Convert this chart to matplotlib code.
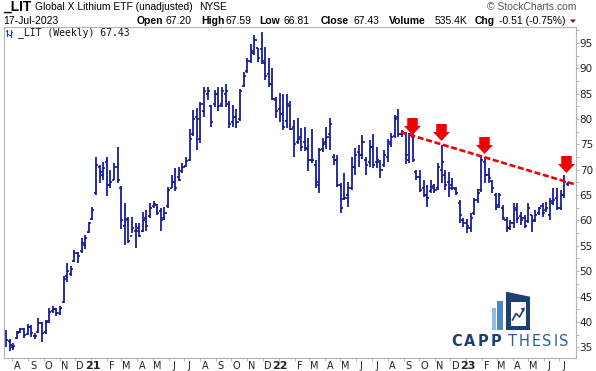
import matplotlib
matplotlib.use("Agg")
import matplotlib.pyplot as plt
import matplotlib.dates as mdates
from matplotlib.path import Path
from matplotlib.patches import Polygon, Rectangle
from matplotlib.lines import Line2D
from matplotlib.ticker import MultipleLocator
import matplotlib.transforms as mtransforms
import pandas as pd
import numpy as np

# --- weekly OHLC for _LIT, week of 20-Jul-2020 to week of 17-Jul-2023 ---
FIRST_WEEK = "2020-07-20"

opens = [
    37.8, 36.3, 35.0, 36.8, 38.0, 38.5, 37.6, 39.0, 37.2, 38.0, 39.7, 38.0, 40.2,
    42.2, 42.6, 41.8, 44.0, 49.0, 49.5, 52.0, 53.6, 54.0, 55.2, 57.8, 60.3, 65.5,
    70.5, 69.0, 71.5, 67.0, 68.0, 70.5, 66.5, 59.0, 60.2, 57.0, 58.0, 58.5, 58.0,
    60.5, 60.8, 62.8, 63.0, 61.8, 60.5, 62.8, 66.5, 67.5, 68.5, 69.8, 70.7, 72.0,
    77.0, 80.5, 76.0, 81.5, 85.0, 82.5, 83.0, 85.0, 83.0, 85.0, 83.0, 79.5, 80.5,
    80.0, 86.5, 89.5, 91.5, 93.0, 94.0, 93.8, 91.0, 88.8, 87.0, 83.8, 82.0, 81.0,
    79.6, 82.5, 78.5, 75.5, 76.5, 75.5, 74.0, 72.0, 71.0, 67.0, 74.0, 75.5, 77.0,
    72.5, 72.0, 67.0, 64.2, 65.0, 66.5, 70.5, 73.5, 73.0, 72.0, 71.5, 74.5, 71.5,
    71.5, 71.0, 72.5, 75.0, 76.6, 80.5, 77.0, 77.0, 72.0, 76.5, 69.5, 68.5, 66.5,
    65.0, 65.8, 66.8, 66.5, 70.0, 69.0, 67.5, 67.0, 66.2, 63.5, 60.0, 59.5, 58.5,
    61.5, 64.0, 66.0, 71.5, 69.0, 67.8, 65.0, 63.0, 62.5, 60.0, 58.5, 59.5, 62.0,
    60.8, 60.5, 59.8, 61.0, 60.0, 61.5, 62.8, 62.0, 61.0, 63.5, 64.5, 62.5, 65.0,
    67.20,
]
highs = [
    38.4, 36.6, 35.8, 38.1, 38.8, 38.8, 39.5, 39.3, 37.8, 40.8, 40.0, 40.4, 42.7,
    43.1, 42.7, 43.2, 49.0, 51.6, 51.0, 54.2, 53.8, 56.5, 57.1, 59.7, 62.7, 72.6,
    71.0, 71.5, 72.5, 70.0, 71.4, 74.5, 66.8, 63.4, 60.7, 60.7, 59.5, 59.5, 61.7,
    62.0, 63.4, 63.8, 63.2, 62.5, 62.7, 66.6, 69.0, 70.3, 70.5, 71.3, 72.5, 78.0,
    81.8, 82.2, 83.4, 86.3, 86.3, 82.8, 85.7, 86.3, 86.3, 86.9, 83.6, 82.8, 82.0,
    85.9, 89.3, 92.0, 94.8, 96.6, 94.0, 97.2, 94.2, 92.0, 90.0, 84.4, 85.1, 84.9,
    85.0, 83.6, 79.8, 80.2, 78.2, 78.4, 76.3, 78.0, 71.9, 74.2, 76.3, 78.4, 80.2,
    73.1, 72.9, 67.4, 69.4, 67.6, 72.5, 74.3, 74.9, 76.9, 72.5, 75.9, 77.0, 74.5,
    71.9, 73.9, 76.1, 77.2, 80.8, 82.0, 77.8, 77.4, 77.2, 77.4, 70.0, 70.0, 68.0,
    67.0, 68.0, 67.2, 71.3, 74.9, 70.0, 69.6, 68.4, 66.6, 64.0, 60.5, 60.3, 61.5,
    64.4, 66.2, 72.7, 72.5, 70.3, 68.0, 65.4, 65.4, 63.0, 60.7, 60.1, 63.4, 63.4,
    61.7, 61.1, 63.4, 61.1, 62.1, 62.7, 63.4, 63.6, 64.4, 66.4, 66.4, 66.0, 68.9,
    67.59,
]
lows = [
    35.0, 34.3, 34.5, 36.6, 37.8, 36.8, 37.4, 37.0, 36.6, 37.8, 36.1, 37.6, 39.8,
    41.7, 41.2, 41.4, 43.7, 47.9, 49.0, 51.8, 51.6, 53.6, 54.4, 57.5, 60.1, 65.0,
    67.4, 68.0, 64.8, 66.4, 68.0, 67.4, 58.3, 55.2, 55.6, 57.5, 54.6, 56.7, 57.7,
    58.0, 60.5, 62.5, 61.0, 58.0, 60.1, 62.5, 66.4, 65.8, 67.8, 69.4, 70.5, 71.7,
    76.7, 73.9, 75.3, 80.4, 83.8, 78.4, 82.4, 81.6, 82.4, 82.4, 78.2, 78.4, 78.2,
    79.6, 86.3, 89.0, 91.0, 92.6, 91.2, 90.9, 87.7, 86.3, 83.8, 80.2, 79.4, 77.8,
    78.2, 77.8, 72.5, 75.1, 73.7, 73.7, 69.8, 71.3, 66.4, 65.4, 73.5, 74.1, 73.9,
    70.9, 66.6, 61.5, 64.0, 62.7, 66.0, 69.0, 70.5, 72.1, 69.0, 70.5, 70.3, 70.3,
    68.4, 70.5, 71.5, 74.5, 76.3, 76.5, 76.5, 71.1, 71.3, 71.5, 68.0, 65.6, 64.6,
    62.7, 65.4, 65.4, 66.0, 67.4, 66.0, 64.6, 66.0, 65.0, 59.5, 58.7, 57.5, 57.7,
    61.1, 63.4, 65.6, 67.4, 67.4, 65.4, 62.1, 62.5, 60.0, 57.7, 58.1, 58.5, 59.5,
    59.1, 58.5, 59.5, 57.7, 59.7, 61.1, 60.7, 61.7, 60.1, 63.0, 62.1, 62.1, 64.4,
    66.81,
]
closes = [
    36.5, 35.5, 35.3, 37.8, 38.5, 37.5, 39.0, 37.8, 37.3, 39.8, 37.8, 40.0, 42.0,
    42.5, 41.8, 42.8, 48.5, 50.0, 50.5, 53.5, 53.0, 55.5, 56.5, 59.5, 62.0, 71.0,
    69.5, 70.3, 67.0, 67.5, 70.5, 68.0, 60.0, 60.0, 56.0, 58.5, 58.0, 57.0, 60.0,
    59.0, 62.5, 63.2, 61.5, 60.0, 61.5, 66.0, 67.5, 66.5, 68.0, 70.5, 71.8, 76.0,
    80.0, 80.0, 83.0, 85.5, 85.5, 79.5, 85.0, 82.5, 85.5, 85.6, 79.0, 80.5, 79.5,
    85.5, 88.5, 91.5, 93.5, 95.5, 92.0, 91.5, 88.5, 87.0, 84.0, 81.5, 81.0, 78.5,
    83.0, 78.0, 75.0, 76.0, 74.5, 74.3, 72.0, 72.0, 67.5, 73.8, 75.0, 76.5, 79.0,
    72.0, 67.0, 62.5, 64.5, 66.5, 70.5, 73.0, 73.0, 75.5, 71.0, 74.5, 71.0, 72.0,
    70.0, 73.0, 75.5, 76.5, 80.0, 77.0, 77.5, 73.0, 77.0, 72.0, 68.5, 66.0, 65.0,
    64.5, 66.5, 66.0, 70.5, 71.5, 67.0, 66.5, 66.5, 65.5, 61.0, 59.5, 59.0, 60.5,
    64.0, 65.5, 72.0, 69.0, 68.3, 66.5, 62.7, 65.0, 60.5, 58.5, 59.5, 62.5, 60.5,
    60.0, 59.0, 62.5, 59.8, 61.0, 62.5, 61.5, 62.5, 63.8, 64.0, 62.5, 65.0, 67.6,
    67.43,
]

# resistance trendline (date, price) and the four red arrows (date, tip price)
trend_dates = ["2022-08-27", "2023-08-04"]
trend_prices = [77.4, 67.0]
arrow_dates = ["2022-09-17", "2022-11-12", "2023-02-04", "2023-07-13"]
arrow_tips = [77.1, 75.8, 73.2, 69.6]

month_labels = ["A", "S", "O", "N", "D",
                "21", "F", "M", "A", "M", "J", "J", "A", "S", "O", "N", "D",
                "22", "F", "M", "A", "M", "J", "J", "A", "S", "O", "N", "D",
                "23", "F", "M", "A", "M", "J", "J"]

# --- Configuration ---
W, H = 596, 371
BAR_COLOR = "#0e1597"
RED = "#f00000"
FONT = "Liberation Sans"


def fp(x, y):
    """pixel (from top-left) -> figure fraction"""
    return (x / W, 1 - y / H)


def down_arrow_marker():
    verts = [(0, -0.5), (0.5, 0.03), (0.31, 0.03), (0.31, 0.5),
             (-0.31, 0.5), (-0.31, 0.03), (-0.5, 0.03), (0, -0.5)]
    codes = [Path.MOVETO] + [Path.LINETO] * 6 + [Path.CLOSEPOLY]
    return Path(verts, codes)


fig = plt.figure(figsize=(W / 100, H / 100), dpi=100)
fig.patch.set_facecolor("white")
ax = fig.add_axes([4 / W, 1 - 358 / H, 572 / W, 331 / H])

weeks = pd.date_range(FIRST_WEEK, periods=len(closes), freq="7D")
xs = mdates.date2num(weeks)

ax.vlines(xs, lows, highs, color=BAR_COLOR, lw=1.25)
ax.hlines(opens, xs - 4.0, xs, color=BAR_COLOR, lw=1.2)
ax.hlines(closes, xs, xs + 4.0, color=BAR_COLOR, lw=1.2)

# dashed trendline
tx = mdates.date2num(pd.to_datetime(trend_dates))
ax.plot(tx, trend_prices, color=RED, lw=1.9, linestyle=(0, (2.3, 1.0)),
        solid_capstyle="butt", zorder=3)

# arrows pointing down at the touches
arr_tr = mtransforms.offset_copy(ax.transData, fig=fig, x=0, y=8.2, units="dots")
ax_dates = mdates.date2num(pd.to_datetime(arrow_dates))
ax.plot(ax_dates, arrow_tips, linestyle="none", marker=down_arrow_marker(),
        markersize=12.2, color=RED, markeredgewidth=0, transform=arr_tr, zorder=4)

ax.set_xlim(xs[0] - 0.56 * 7, xs[0] + 158.3 * 7)
ax.set_ylim(32.87, 98.16)

for s in ax.spines.values():
    s.set_color("#b4b4b4")
    s.set_linewidth(0.8)

ax.yaxis.tick_right()
ax.yaxis.set_major_locator(MultipleLocator(5))
ax.yaxis.set_minor_locator(MultipleLocator(2.5))
ax.tick_params(axis="y", which="both", length=1.8, width=0.7, color="#b4b4b4",
               pad=0.8, labelsize=7.5, labelcolor="#222222")
ax.set_yticks(np.arange(35, 96, 5))
ax.set_yticklabels([str(v) for v in range(35, 96, 5)], fontfamily="DejaVu Sans")

# month ticks along the bottom
month_starts = pd.date_range("2020-08-01", periods=len(month_labels), freq="MS")
ms = mdates.date2num(month_starts)
ax.set_xticks(ms)
ax.set_xticklabels([])
ax.tick_params(axis="x", length=1.8, width=0.7, color="#b4b4b4")
xt = ax.get_xaxis_transform()
lab_y = -(366 - 358) / 331
for m, lab in zip(ms, month_labels):
    if lab.isdigit():
        ax.text(m + 3, lab_y, lab, transform=xt, ha="center", va="center",
                fontsize=8, fontweight="bold", family="DejaVu Sans", color="#222222")
    else:
        ax.text(m + 9.5, lab_y, lab, transform=xt, ha="center", va="center",
                fontsize=7, family="DejaVu Sans", color="#222222")

# --- header ---
fig.text(*fp(3, 7), "_LIT", fontsize=10, fontweight="bold", family=FONT,
         va="center", ha="left")
fig.text(*fp(35, 7.5), "Global X Lithium ETF (unadjusted)", fontsize=7.4,
         family=FONT, va="center", ha="left")
fig.text(*fp(199, 7.5), "NYSE", fontsize=7.4, family=FONT, va="center", ha="left")
fig.text(*fp(487, 6.5), "\u00a9 StockCharts.com", fontsize=7.5, family=FONT,
         va="center", ha="left", color="#555555")
fig.text(*fp(3, 20.5), "17-Jul-2023", fontsize=7.5, family=FONT, va="center", ha="left")

header_bits = [
    (137, "Open", True), (165.5, "67.20", False),
    (201, "High", True), (225, "67.59", False),
    (259, "Low", True), (284, "66.81", False),
    (320.5, "Close", True), (354, "67.43", False),
    (389, "Volume", True), (435, "535.4K", False),
    (475, "Chg", True), (499, "-0.51 (-0.75%)", False),
]
for x, txt, bold in header_bits:
    fig.text(*fp(x, 20.5), txt, fontsize=7.5, family=FONT, va="center", ha="left",
             fontweight="bold" if bold else "normal")
fig.add_artist(Polygon([fp(570, 19.5), fp(576, 19.5), fp(573, 23)], closed=True,
                       transform=fig.transFigure, color="#8b0a3a", lw=0))

# legend line inside plot
for bx, (lo, hi, o, c) in [(7, (29.5, 36, 31, 34)), (10.5, (30, 36.5, 35, 31.5))]:
    fig.add_artist(Line2D([bx / W, bx / W], [1 - hi / H, 1 - lo / H],
                          transform=fig.transFigure, color="#1a3bbf", lw=0.8))
    fig.add_artist(Line2D([(bx - 1.2) / W, bx / W], [1 - o / H, 1 - o / H],
                          transform=fig.transFigure, color="#1a3bbf", lw=0.8))
    fig.add_artist(Line2D([bx / W, (bx + 1.2) / W], [1 - c / H, 1 - c / H],
                          transform=fig.transFigure, color="#1a3bbf", lw=0.8))
fig.text(*fp(18.5, 33), "_LIT (Weekly) 67.43", fontsize=7, family="DejaVu Sans Mono",
         va="center", ha="left", color="#111111")

# --- CAPPTHESIS logo, bottom right ---
fig.add_artist(Rectangle(fp(491.7, 330), 3.8 / W, 22 / H, transform=fig.transFigure,
                         color="#8fbbe6", lw=0))
fig.add_artist(Rectangle(fp(497, 330), 6 / W, 29.3 / H, transform=fig.transFigure,
                         color="#4a86cf", lw=0))
fig.add_artist(Polygon([fp(506, 291.7), fp(530, 296.7), fp(530, 330), fp(506, 330)],
                       closed=True, transform=fig.transFigure, color="#1d3f73", lw=0))
fig.add_artist(Rectangle(fp(510.5, 325.5), 15.5 / W, 24 / H, transform=fig.transFigure,
                         color="white", lw=0))
fig.add_artist(Line2D([512.5 / W, 516 / W, 519.5 / W, 523 / W],
                      [1 - 320 / H, 1 - 313.5 / H, 1 - 317 / H, 1 - 310.5 / H],
                      transform=fig.transFigure, color="#1d3f73", lw=1.2))
fig.add_artist(Polygon([fp(525, 307.5), fp(520.5, 308.5), fp(524, 312)], closed=True,
                       transform=fig.transFigure, color="#1d3f73", lw=0))

logo_letters = [("C", 457, True), ("A", 469.7, True), ("P", 482.7, True), ("P", 495.5, True),
                ("T", 513, False), ("H", 524.5, False), ("E", 536, False),
                ("S", 547, False), ("I", 556, False), ("S", 564, False)]
for ch, x, bold in logo_letters:
    fig.text(*fp(x, 341.5), ch, fontsize=10.5, family="DejaVu Sans", ha="center",
             va="center", fontweight="bold" if bold else "normal",
             color="#1d3f73" if bold else "#2d5c9c")

fig.savefig("out.png", dpi=100, facecolor="white")
